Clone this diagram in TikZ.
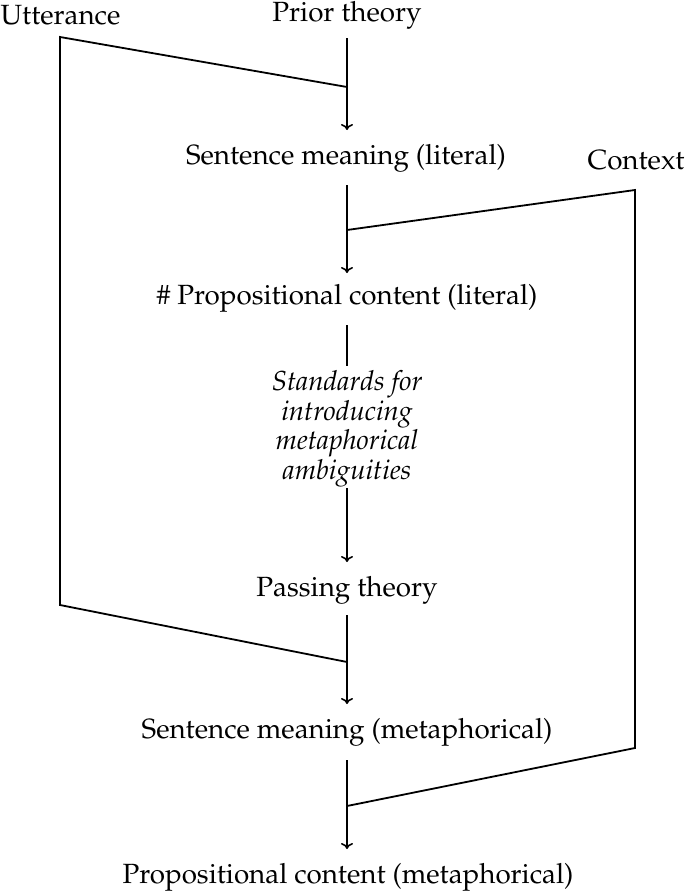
\documentclass[tikz,border=0pt]{standalone}
\usepackage[T1]{fontenc}
\usepackage{mathpazo}
\usetikzlibrary{arrows.meta}
\begin{document}
\begin{tikzpicture}[x=1pt,y=-1pt,
  lab/.style={inner sep=0pt, font=\fontsize{27.8}{30}\selectfont},
  ital/.style={inner sep=0pt, align=center, font=\fontsize{27.5}{29.5}\selectfont\itshape},
  ln/.style={line width=1.8pt},
  arr/.style={ln, -{To[length=6pt,width=12pt,line width=1.6pt]}}]
\useasboundingbox (0,0) rectangle (685,894);
\node[lab] (utt) at (60.5,15) {Utterance};
\node[lab] (prior) at (347,15) {Prior theory};
\node[lab] (sml) at (346,158) {Sentence meaning (literal)};
\node[lab] (ctx) at (636,160) {Context};
\node[lab] (pcl) at (347,298) {\# Propositional content (literal)};
\node[ital] (std) at (347,429) {Standards for\\introducing\\metaphorical\\ambiguities};
\node[lab] (pt) at (347,590) {Passing theory};
\node[lab] (smm) at (347,732) {Sentence meaning (metaphorical)};
\node[lab] (pcm) at (348,877) {Propositional content (metaphorical)};
\coordinate (u1) at (60,37);
\coordinate (u2) at (60,605);
\coordinate (c1) at (635,190);
\coordinate (c2) at (635,748);
\coordinate (j1) at (347,87);
\coordinate (j2) at (347,230);
\coordinate (j3) at (347,662);
\coordinate (j4) at (347,806);
\draw[arr] (347,38) -- (347,130);
\draw[arr] (347,185) -- (347,273);
\draw[ln] (347,325) -- (347,366);
\draw[arr] (347,488) -- (347,562);
\draw[arr] (347,615) -- (347,704);
\draw[arr] (347,760) -- (347,849);
\draw[ln] (j1) -- (u1) -- (u2) -- (j3);
\draw[ln] (j2) -- (c1) -- (c2) -- (j4);
\end{tikzpicture}
\end{document}
